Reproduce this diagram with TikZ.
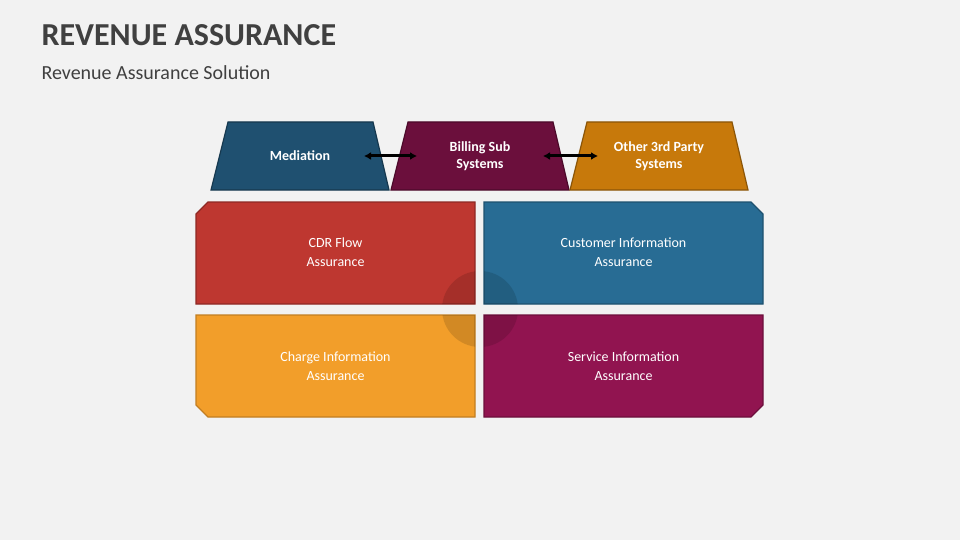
\documentclass[tikz,border=0pt]{standalone}
\usepackage{fontspec}
\setmainfont{Carlito}
\usetikzlibrary{arrows.meta}
\definecolor{bgGray}{HTML}{F2F2F2}
\definecolor{titleGray}{HTML}{404040}
\definecolor{medBlue}{HTML}{1F5070}
\definecolor{billWine}{HTML}{6B0F3C}
\definecolor{otherOchre}{HTML}{C7790B}
\definecolor{cdrRed}{HTML}{BE3730}
\definecolor{custBlue}{HTML}{286C94}
\definecolor{chargeOrange}{HTML}{F29E2A}
\definecolor{servPurple}{HTML}{911450}
\newcommand{\drawTrap}[5]{
  \draw[trap, fill=#4, draw=#4!70!black] (#1+17,122) -- (#1+162,122) -- (#1+178,190) -- (#1,190) -- cycle;
  \node[toptext] (#2) at (#1+89,#3) {#5};
}
\tikzset{
  trap/.style={line width=1.2pt},
  toptext/.style={text=white, font=\fontsize{14}{17}\selectfont\bfseries, align=center},
  boxtext/.style={text=white, font=\fontsize{14}{19}\selectfont, align=center},
  panel/.style={line width=1.2pt},
  link/.style={{Latex[length=7pt,width=8pt]}-{Latex[length=7pt,width=8pt]}, line width=3pt, black}
}
\begin{document}
\begin{tikzpicture}[x=1pt, y=-1pt]
  \fill[bgGray] (0,0) rectangle (960,540);
  \useasboundingbox (0,0) rectangle (960,540);
  % Title
  \node[anchor=west, text=titleGray, font=\fontsize{32}{36}\selectfont\bfseries] (title) at (38,35) {REVENUE ASSURANCE};
  \node[anchor=west, text=titleGray, font=\fontsize{20}{24}\selectfont] (subtitle) at (38,73) {Revenue Assurance Solution};
  % Top systems
  \drawTrap{211}{mediation}{156}{medBlue}{Mediation}
  \drawTrap{391}{billing}{156}{billWine}{Billing Sub\\Systems}
  \drawTrap{570}{other}{156}{otherOchre}{Other 3rd Party\\Systems}
  \coordinate (medR) at (364,156);
  \coordinate (billL) at (417,156);
  \coordinate (billR) at (543,156);
  \coordinate (othL) at (598,156);
  \draw[link] (medR) -- (billL);
  \draw[link] (billR) -- (othL);
  % Panels
  \draw[panel, fill=cdrRed, draw=cdrRed!75!black] (196,214) -- (208,202) -- (475,202) -- (475,304) -- (196,304) -- cycle;
  \draw[panel, fill=custBlue, draw=custBlue!75!black] (484,202) -- (751,202) -- (763,214) -- (763,304) -- (484,304) -- cycle;
  \draw[panel, fill=chargeOrange, draw=chargeOrange!80!black] (196,315) -- (475,315) -- (475,417) -- (208,417) -- (196,405) -- cycle;
  \draw[panel, fill=servPurple, draw=servPurple!75!black] (484,315) -- (763,315) -- (763,405) -- (751,417) -- (484,417) -- cycle;
  \begin{scope}
    \clip (196,202) rectangle (475,304) (484,202) rectangle (763,304)
          (196,315) rectangle (475,417) (484,315) rectangle (763,417);
    \fill[black, opacity=0.13] (480,309) circle (38);
  \end{scope}
  \node[boxtext] (cdr) at (335.5,252) {CDR Flow\\Assurance};
  \node[boxtext] (cust) at (623.5,252) {Customer Information\\Assurance};
  \node[boxtext] (charge) at (335.5,366) {Charge Information\\Assurance};
  \node[boxtext] (serv) at (623.5,366) {Service Information\\Assurance};
\end{tikzpicture}
\end{document}
